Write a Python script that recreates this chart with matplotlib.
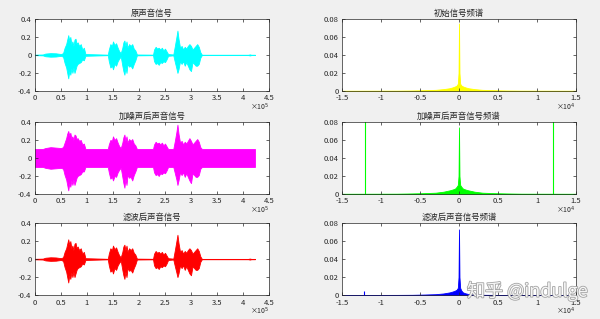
import matplotlib.pyplot as plt
import matplotlib.patheffects as pe
import numpy as np

plt.rcParams['font.family'] = ['Noto Sans CJK SC', 'DejaVu Sans']

# time axis in units of 1e5 samples
t = [0.00, 0.15, 0.20, 0.30, 0.40, 0.50, 0.54, 0.57, 0.60, 0.62, 0.64, 0.66,
     0.68, 0.70, 0.72, 0.74, 0.76, 0.78, 0.80, 0.82, 0.85, 0.88, 0.91, 0.94,
     0.97, 1.40, 1.42, 1.45, 1.48, 1.50, 1.53, 1.56, 1.59, 1.62, 1.65, 1.68,
     1.70, 1.72, 1.74, 1.76, 1.78, 1.81, 1.84, 1.87, 1.90, 1.93, 1.96, 2.27,
     2.29, 2.32, 2.35, 2.38, 2.41, 2.44, 2.47, 2.50, 2.53, 2.56, 2.66, 2.69,
     2.72, 2.74, 2.76, 2.79, 2.82, 2.85, 2.88, 2.91, 2.94, 2.97, 3.00, 3.03,
     3.06, 3.09, 3.12, 3.15, 3.18, 3.21, 4.10, 4.13, 4.16, 4.23]

# envelope of the original speech signal
orig_up = [0.003, 0.005, 0.015, 0.02, 0.018, 0.01, 0.02, 0.08, 0.12, 0.17, 0.22, 0.16,
           0.20, 0.12, 0.15, 0.10, 0.17, 0.18, 0.12, 0.14, 0.10, 0.12, 0.06, 0.08,
           0.01, 0.003, 0.06, 0.12, 0.10, 0.15, 0.11, 0.13, 0.08, 0.04, 0.02, 0.08,
           0.14, 0.16, 0.10, 0.15, 0.08, 0.12, 0.10, 0.12, 0.07, 0.05, 0.005, 0.003,
           0.06, 0.09, 0.07, 0.08, 0.06, 0.08, 0.05, 0.07, 0.04, 0.01, 0.005, 0.10,
           0.20, 0.27, 0.18, 0.08, 0.10, 0.06, 0.09, 0.07, 0.10, 0.12, 0.10, 0.06,
           0.08, 0.10, 0.12, 0.09, 0.03, 0.002, 0.002, 0.006, 0.002, 0.002]
orig_lo = [-0.003, -0.005, -0.015, -0.02, -0.018, -0.01, -0.02, -0.09, -0.14, -0.20, -0.26, -0.18,
           -0.22, -0.15, -0.20, -0.14, -0.20, -0.16, -0.12, -0.10, -0.09, -0.08, -0.05, -0.06,
           -0.01, -0.003, -0.07, -0.14, -0.12, -0.16, -0.10, -0.12, -0.07, -0.04, -0.02, -0.12,
           -0.18, -0.22, -0.14, -0.20, -0.10, -0.13, -0.12, -0.15, -0.10, -0.06, -0.005, -0.003,
           -0.07, -0.10, -0.09, -0.11, -0.08, -0.09, -0.07, -0.08, -0.05, -0.01, -0.005, -0.08,
           -0.15, -0.20, -0.16, -0.07, -0.10, -0.07, -0.12, -0.08, -0.12, -0.16, -0.18, -0.08,
           -0.10, -0.12, -0.12, -0.10, -0.03, -0.002, -0.002, -0.006, -0.002, -0.002]

# envelope of the noisy signal
noisy_up = [0.10, 0.10, 0.11, 0.12, 0.115, 0.11, 0.12, 0.17, 0.22, 0.27, 0.30, 0.25,
            0.28, 0.22, 0.24, 0.20, 0.26, 0.25, 0.21, 0.22, 0.19, 0.20, 0.15, 0.16,
            0.10, 0.10, 0.15, 0.20, 0.19, 0.24, 0.20, 0.22, 0.17, 0.13, 0.11, 0.17,
            0.23, 0.26, 0.19, 0.24, 0.17, 0.21, 0.19, 0.21, 0.16, 0.14, 0.10, 0.10,
            0.15, 0.18, 0.16, 0.17, 0.15, 0.17, 0.14, 0.16, 0.13, 0.10, 0.10, 0.19,
            0.29, 0.37, 0.27, 0.17, 0.19, 0.15, 0.18, 0.16, 0.19, 0.22, 0.19, 0.15,
            0.17, 0.19, 0.21, 0.18, 0.12, 0.10, 0.10, 0.10, 0.10, 0.10]
noisy_lo = [-0.10, -0.10, -0.11, -0.12, -0.115, -0.11, -0.12, -0.19, -0.24, -0.30, -0.36, -0.28,
            -0.32, -0.25, -0.30, -0.24, -0.30, -0.26, -0.22, -0.20, -0.19, -0.18, -0.15, -0.15,
            -0.10, -0.10, -0.16, -0.23, -0.21, -0.25, -0.20, -0.21, -0.16, -0.13, -0.11, -0.21,
            -0.28, -0.33, -0.23, -0.30, -0.19, -0.22, -0.21, -0.25, -0.19, -0.15, -0.10, -0.10,
            -0.16, -0.19, -0.18, -0.20, -0.17, -0.18, -0.16, -0.17, -0.14, -0.10, -0.10, -0.17,
            -0.24, -0.30, -0.25, -0.16, -0.19, -0.16, -0.21, -0.17, -0.21, -0.25, -0.28, -0.17,
            -0.19, -0.21, -0.21, -0.19, -0.12, -0.10, -0.10, -0.10, -0.10, -0.10]

# frequency axis in units of 1e4 Hz
f = [-1.5, -0.8, -0.6, -0.45, -0.3, -0.2, -0.12, -0.08, -0.05, -0.03, -0.015, -0.006,
     0.0, 0.006, 0.015, 0.03, 0.05, 0.08, 0.12, 0.2, 0.3, 0.45, 0.6, 0.8, 1.5]
spec_orig = [0.0002, 0.0003, 0.0005, 0.0008, 0.0012, 0.002, 0.003, 0.004, 0.005, 0.006, 0.008, 0.02,
             0.075, 0.02, 0.008, 0.006, 0.005, 0.004, 0.003, 0.002, 0.0012, 0.0008, 0.0005, 0.0003, 0.0002]
spec_noisy = [0.0002, 0.0003, 0.0006, 0.0009, 0.0014, 0.0025, 0.004, 0.005, 0.006, 0.008, 0.01, 0.02,
              0.074, 0.02, 0.01, 0.008, 0.006, 0.005, 0.004, 0.0025, 0.0014, 0.0009, 0.0006, 0.0003, 0.0002]
spec_filt = [0.0001, 0.0002, 0.0003, 0.0006, 0.001, 0.0018, 0.003, 0.004, 0.005, 0.006, 0.008, 0.02,
             0.073, 0.02, 0.008, 0.005, 0.003, 0.002, 0.0012, 0.0006, 0.0003, 0.0002, 0.0001, 0.0001, 0.0001]

tone_f = [-1.2, 1.2]
tone_noisy = [0.1, 0.1]
tone_filt_f = [-1.22]
tone_filt = [0.005]

titles = ['原声音信号', '初始信号频谱', '加噪声后声音信号', '加噪声后声音信号频谱',
          '滤波后声音信号', '滤波后声音信号频谱']

fig = plt.figure(figsize=(6, 3.19), dpi=100, facecolor='#f0f0f0')

rows_y = [0.715, 0.392, 0.075]
h = 0.2257
cols_x = [0.0583, 0.57]
w = 0.39

axes = []
for r in range(3):
    for c in range(2):
        ax = fig.add_axes([cols_x[c], rows_y[r], w, h])
        axes.append(ax)


def style(ax, title, left):
    ax.set_facecolor('white')
    for s in ax.spines.values():
        s.set_color('#262626')
        s.set_linewidth(0.5)
    ax.tick_params(direction='in', length=2.5, width=0.5, labelsize=5.5,
                   colors='#262626', top=True, right=True, pad=2.5)
    ax.set_title(title, fontsize=6, pad=2, color='#262626')
    if left:
        ax.set_xlim(0, 4.5)
        ax.set_ylim(-0.4, 0.4)
        xt = np.arange(0, 4.51, 0.5)
        yt = [-0.4, -0.2, 0, 0.2, 0.4]
        off = '×10$^5$'
    else:
        ax.set_xlim(-1.5, 1.5)
        ax.set_ylim(0, 0.08)
        xt = np.arange(-1.5, 1.51, 0.5)
        yt = [0, 0.02, 0.04, 0.06, 0.08]
        off = '×10$^4$'
    ax.set_xticks(xt)
    ax.set_xticklabels(['%g' % v for v in xt])
    ax.set_yticks(yt)
    ax.set_yticklabels(['%g' % v for v in yt])
    ax.text(1.0, -0.15, off, transform=ax.transAxes, ha='right', va='top',
            fontsize=5, color='#262626')


# waveforms
axes[0].fill_between(t, orig_lo, orig_up, color='#00ffff', linewidth=0.6)
axes[2].fill_between(t, noisy_lo, noisy_up, color='#ff00ff', linewidth=0.6)
axes[4].fill_between(t, orig_lo, orig_up, color='#ff0000', linewidth=0.6)

# spectra
axes[1].fill_between(f, 0, spec_orig, color='#ffff00', linewidth=0.6)
axes[3].fill_between(f, 0, spec_noisy, color='#00ff00', linewidth=0.6)
axes[3].vlines(tone_f, 0, tone_noisy, color='#00ff00', linewidth=0.8)
axes[5].fill_between(f, 0, spec_filt, color='#0000ff', linewidth=0.6)
axes[5].vlines(tone_filt_f, 0, tone_filt, color='#0000ff', linewidth=0.8)

for i, ax in enumerate(axes):
    style(ax, titles[i], i % 2 == 0)

fig.text(467 / 600, 1 - 291 / 319, '知乎 @indulge', fontsize=13, color='white',
         alpha=0.9, va='center', ha='left',
         path_effects=[pe.withStroke(linewidth=1.2, foreground='#9a9a9a')])

fig.savefig('out.png', dpi=100, facecolor=fig.get_facecolor())
